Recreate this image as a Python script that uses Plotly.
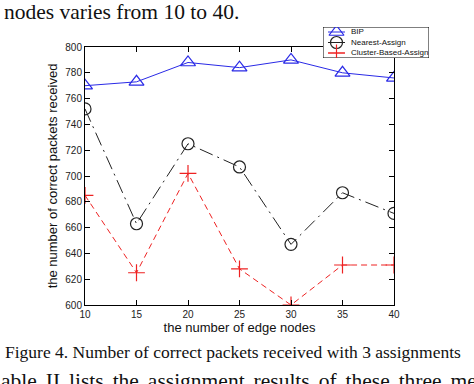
import plotly.graph_objects as go

# ---- data ----
edge_nodes = [10, 15, 20, 25, 30, 35, 40]
bip = [770, 773, 788, 784, 790, 780, 776]
nearest_assign = [752, 663, 725, 707, 647, 687, 671]
cluster_based = [685, 625, 702, 628, 600, 631, 631]
y_ticks = [600, 620, 640, 660, 680, 700, 720, 740, 760, 780, 800]
x_ticks = [10, 15, 20, 25, 30, 35, 40]
series_names = ["BIP", "Nearest-Assign", "Cluster-Based-Assign"]

# ---- layout constants (pixels) ----
W, H = 474, 384
L, T, B = 85, 20, 79          # paper area: x 85..440, y 20..305
PAPER_R = 440
PLOT_R, PLOT_T = 394, 47      # main plot area: x 85..394, y 47..305
pw, ph = PAPER_R - L, H - B - T
LEG_X0, LEG_X1, LEG_Y0, LEG_Y1 = 323, 429, 27, 58


def px(x):
    return (x - L) / pw


def py(y):
    return (H - B - y) / ph


styles = [
    dict(line=dict(color="#2a2ae6", width=1),
         marker=dict(symbol="triangle-up-open", size=13, color="#2a2ae6", line=dict(width=1.2))),
    dict(line=dict(color="#222222", width=1, dash="14px,5px,2px,5px"),
         marker=dict(symbol="circle-open", size=12, color="#222222", line=dict(width=1.2))),
    dict(line=dict(color="#ee2222", width=1, dash="6px,4px"),
         marker=dict(symbol="cross-thin-open", size=12, color="#ee2222",
                     line=dict(width=1.2, color="#ee2222"))),
]

fig = go.Figure()
for name, vals, st in zip(series_names, [bip, nearest_assign, cluster_based], styles):
    fig.add_trace(go.Scatter(x=edge_nodes, y=vals, name=name, mode="lines+markers",
                             showlegend=False, xaxis="x", yaxis="y", **st))

# ---- compact MATLAB-like legend on an overlay axis in pixel units ----
item_y = [32, 42.5, 53]
for name, yy, st in zip(series_names, item_y, styles):
    line_style = dict(st["line"], dash="solid")
    fig.add_trace(go.Scatter(x=[328, 345], y=[yy, yy], mode="lines", line=line_style,
                             showlegend=False, hoverinfo="skip", xaxis="x2", yaxis="y2"))
    fig.add_trace(go.Scatter(x=[336.5], y=[yy], mode="markers", marker=st["marker"],
                             showlegend=False, hoverinfo="skip", xaxis="x2", yaxis="y2"))

axis_common = dict(
    showline=True, linecolor="black", linewidth=1, mirror="ticks",
    ticks="inside", ticklen=5, tickcolor="black", showgrid=False, zeroline=False,
    tickfont=dict(family="Liberation Sans, Arial", size=10, color="#222"),
)

GAP = "\u2006\u2005"
bottom_words = ["able", "II", "lists", "the", "assignment", "results", "of", "these", "three", "meth"]

annotations = [
    dict(text=n, xref="x2", yref="y2", x=349, y=yy, xanchor="left", yanchor="middle",
         showarrow=False, font=dict(family="Liberation Sans, Arial", size=8, color="#111"))
    for n, yy in zip(series_names, item_y)
]
annotations += [
    dict(text="nodes varies from 10 to 40.", xref="paper", yref="paper",
         x=px(2), y=py(12), xanchor="left", yanchor="middle", showarrow=False,
         font=dict(family="Liberation Serif, Times New Roman", size=21.5, color="#111")),
    dict(text="Figure 4. Number of correct packets received with 3 assignments",
         xref="paper", yref="paper", x=px(233), y=py(352), xanchor="center",
         yanchor="middle", showarrow=False,
         font=dict(family="Liberation Serif, Times New Roman", size=17.5, color="#111")),
    dict(text=GAP.join(bottom_words),
         xref="paper", yref="paper", x=px(-1), y=py(381), xanchor="left",
         yanchor="middle", showarrow=False,
         font=dict(family="Liberation Serif, Times New Roman", size=21.5, color="#111")),
]

fig.update_layout(
    width=W, height=H,
    margin=dict(l=L, r=W - PAPER_R, t=T, b=B),
    paper_bgcolor="white", plot_bgcolor="white",
    showlegend=False,
    xaxis=dict(domain=[0, px(PLOT_R)], range=[10, 40], tickvals=x_ticks, anchor="y",
               title=dict(text="the number of edge nodes", standoff=2,
                          font=dict(family="Liberation Sans, Arial", size=13, color="#111")),
               **axis_common),
    yaxis=dict(domain=[0, py(PLOT_T)], range=[600, 800], tickvals=y_ticks, anchor="x",
               title=dict(text="the number of correct packets received", standoff=4,
                          font=dict(family="Liberation Sans, Arial", size=13, color="#111")),
               **axis_common),
    xaxis2=dict(domain=[px(LEG_X0), px(LEG_X1)], range=[LEG_X0, LEG_X1], anchor="y2",
                visible=False, fixedrange=True),
    yaxis2=dict(domain=[py(LEG_Y1), py(LEG_Y0)], range=[LEG_Y1, LEG_Y0], anchor="x2",
                visible=False, fixedrange=True),
    shapes=[dict(type="rect", xref="x2", yref="y2", x0=LEG_X0, x1=LEG_X1, y0=LEG_Y0, y1=LEG_Y1,
                 line=dict(color="black", width=1), fillcolor="white", layer="below")],
    annotations=annotations,
)

fig.write_html("out.html", config={"displayModeBar": False},
               post_script="document.body.style.margin='0px';document.body.style.overflow='hidden';")
